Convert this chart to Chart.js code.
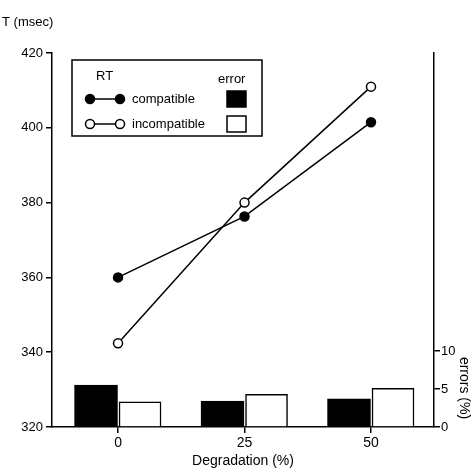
<!DOCTYPE html>
<html><head><script src="https://cdn.jsdelivr.net/npm/chart.js"></script>
<style>html,body{margin:0;padding:0;background:#fff}#w{width:474px;height:474px}</style></head>
<body><div id="w"><canvas id="c"></canvas></div>
<script>
const degradation = [0, 25, 50];
const rtCompatible = [360, 376.3, 401.5];
const rtIncompatible = [342.4, 380, 411];
const errCompatible = [5.5, 3.4, 3.7];
const errIncompatible = [3.3, 4.3, 5.1];
const leftTicks = [320, 340, 360, 380, 400, 420];
const rightTicks = [0, 5, 10];
const F = "'Liberation Sans', Arial, sans-serif";
const off = 4.35;
const fixW = w => function(s){ s.width = w; };
const fixH = h => function(s){ s.height = h; };
const overlay = {
  id:'overlay',
  afterDraw(ch){
    const c = ch.ctx; c.save();
    c.fillStyle='#000'; c.font='13px '+F; c.textBaseline='middle';
    c.fillText('T (msec)', 2, 22);
    c.save(); c.translate(464, 388); c.rotate(Math.PI/2); c.textAlign='center';
    c.font='14px '+F; c.fillText('errors (%)', 0, 0); c.restore();
    c.lineWidth=1.5; c.strokeStyle='#000'; c.strokeRect(72,60,190,76);
    c.font='13px '+F;
    c.fillText('RT', 96, 76); c.fillText('error', 218, 79);
    [[99,true,'compatible'],[124,false,'incompatible']].forEach(([y,f,t])=>{
      c.beginPath(); c.moveTo(90,y); c.lineTo(120,y); c.stroke();
      [90,120].forEach(x=>{ c.beginPath(); c.arc(x,y,4.5,0,Math.PI*2); c.fillStyle=f?'#000':'#fff'; c.fill(); c.stroke(); });
      c.fillStyle='#000'; c.fillText(t, 132, y);
      c.fillStyle=f?'#000':'#fff'; c.fillRect(227,y-8,19,16); c.strokeRect(227,y-8,19,16);
    });
    c.restore();
  }
};
new Chart(document.getElementById('c'), {
  data: {
    datasets: [
      {type:'line', data: degradation.map((x,i)=>({x, y:rtCompatible[i]})), yAxisID:'y', borderColor:'#000', borderWidth:1.5, pointRadius:4.5, pointBackgroundColor:'#000', pointBorderColor:'#000', pointBorderWidth:1.5, order:0},
      {type:'line', data: degradation.map((x,i)=>({x, y:rtIncompatible[i]})), yAxisID:'y', borderColor:'#000', borderWidth:1.5, pointRadius:4.5, pointBackgroundColor:'#fff', pointBorderColor:'#000', pointBorderWidth:1.5, order:0},
      {type:'bar', data: degradation.map((x,i)=>({x:x-off, y:errCompatible[i]})), yAxisID:'y2', backgroundColor:'#000', borderColor:'#000', borderWidth:1.5, barThickness:43, grouped:false, order:1},
      {type:'bar', data: degradation.map((x,i)=>({x:x+off, y:errIncompatible[i]})), yAxisID:'y2', backgroundColor:'#fff', borderColor:'#000', borderWidth:1.5, barThickness:42, grouped:false, order:1}
    ]
  },
  options: {
    responsive:true, maintainAspectRatio:false, animation:false,
    layout:{padding:{top:53,left:0,right:0,bottom:0}},
    plugins:{legend:{display:false}, tooltip:{enabled:false}},
    scales:{
      x:{type:'linear', offset:false, min:-13.05, max:62.45, afterFit:fixH(47),
        afterBuildTicks(s){ s.ticks = degradation.map(v=>({value:v})); },
        grid:{drawOnChartArea:false, offset:false, tickLength:6, color:'#000', lineWidth:1.5},
        border:{color:'#000', width:1.5},
        ticks:{color:'#000', font:{family:F,size:14}, padding:2},
        title:{display:true, text:'Degradation (%)', color:'#000', font:{family:F,size:14}, padding:{top:0}}},
      y:{position:'left', min:320, max:420, afterFit:fixW(52),
        afterBuildTicks(s){ s.ticks = leftTicks.map(v=>({value:v})); },
        grid:{drawOnChartArea:false, tickLength:6, color:'#000', lineWidth:1.5},
        border:{color:'#000', width:1.5},
        ticks:{color:'#000', font:{family:F,size:13}, padding:3}},
      y2:{position:'right', min:0, max:49.2, afterFit:fixW(40),
        afterBuildTicks(s){ s.ticks = rightTicks.map(v=>({value:v})); },
        grid:{drawOnChartArea:false, tickLength:6, color:'#000', lineWidth:1.5},
        border:{color:'#000', width:1.5},
        ticks:{color:'#000', font:{family:F,size:13}, padding:1}}
    }
  },
  plugins:[overlay]
});
</script></body></html>
